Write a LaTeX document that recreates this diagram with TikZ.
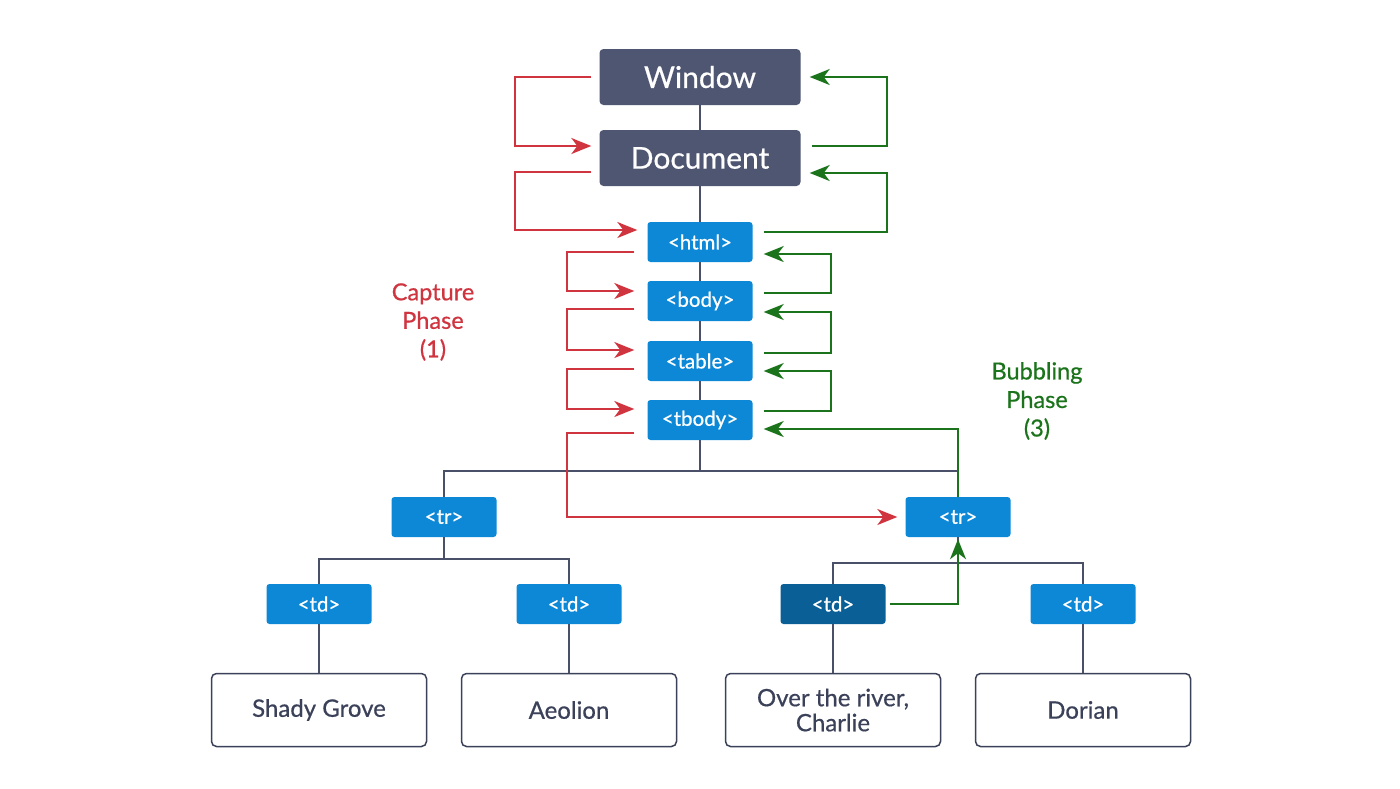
\documentclass[tikz,border=0pt]{standalone}
\usepackage{fontspec}
\setmainfont{Lato}[FakeBold=0.6]
\usetikzlibrary{arrows.meta}
\definecolor{slatefill}{HTML}{4F5672}
\definecolor{bluefill}{HTML}{0C88D7}
\definecolor{darkblue}{HTML}{0B5F97}
\definecolor{capred}{HTML}{D0343F}
\definecolor{bubgreen}{HTML}{1B741B}
\definecolor{lineg}{HTML}{4A5068}
\definecolor{txtdark}{HTML}{3B4159}
\tikzset{
  bigbox/.style={fill=slatefill, text=white, rounded corners=4pt, minimum width=201pt, minimum height=56pt, inner sep=0pt, font=\fontsize{30}{34}\selectfont},
  tagbox/.style={fill=bluefill, text=white, rounded corners=3pt, minimum width=105pt, minimum height=40pt, inner sep=0pt, font=\fontsize{20.5}{23}\selectfont},
  leafbox/.style={draw=txtdark, line width=1.5pt, fill=white, text=txtdark, rounded corners=5pt, minimum width=215pt, minimum height=73pt, inner sep=0pt, align=center, font=\fontsize{24}{26}\selectfont},
  gline/.style={draw=lineg, line width=1.4pt},
  redarr/.style={draw=capred, line width=1.8pt, -{Stealth[length=20pt,width=16pt,inset=6pt]}},
  greenarr/.style={draw=bubgreen, line width=1.8pt, -{Stealth[length=20pt,width=16pt,inset=6pt]}},
  phase/.style={align=center, font=\fontsize{23.5}{28.5}\selectfont}
}
\begin{document}
\begin{tikzpicture}[x=1pt,y=-1pt]
\fill[white] (0,0) rectangle (1400,788);
\useasboundingbox (0,0) rectangle (1400,788);

% nodes
\node[bigbox] (win) at (700,77) {Window};
\node[bigbox] (doc) at (700,158) {Document};
\node[tagbox] (html) at (700,242) {<html>};
\node[tagbox] (body) at (700,301) {<body>};
\node[tagbox] (table) at (700,361) {<table>};
\node[tagbox] (tbody) at (700,420) {<tbody>};
\node[tagbox] (trL) at (444,517) {<tr>};
\node[tagbox] (trR) at (958,517) {<tr>};
\node[tagbox] (td1) at (319,604) {<td>};
\node[tagbox] (td2) at (569,604) {<td>};
\node[tagbox, fill=darkblue] (td3) at (833,604) {<td>};
\node[tagbox] (td4) at (1083,604) {<td>};
\node[leafbox] (b1) at (319,710) {Shady Grove};
\node[leafbox] (b2) at (569,710) {Aeolion};
\node[leafbox] (b3) at (833,710) {Over the river,\\[-1pt]Charlie};
\node[leafbox] (b4) at (1083,710) {Dorian};

\node[phase, text=capred] (cap) at (433,322) {Capture\\Phase\\(1)};
\node[phase, text=bubgreen] (bub) at (1037,401) {Bubbling\\Phase\\(3)};

% tree lines
\draw[gline] (win) -- (doc) -- (html) -- (body) -- (table) -- (tbody);
\draw[gline] (tbody.south) -- ++(0,31);
\draw[gline] (trL.north) -- ++(0,-26) -| (trR.north);
\draw[gline] (trL.south) -- ++(0,22);
\draw[gline] (td1.north) -- ++(0,-25) -| (td2.north);
\draw[gline] (trR.south) -- ++(0,26);
\draw[gline] (td3.north) -- ++(0,-21) -| (td4.north);
\draw[gline] (td1) -- (b1);
\draw[gline] (td2) -- (b2);
\draw[gline] (td3) -- (b3);
\draw[gline] (td4) -- (b4);

% capture (red)
\draw[redarr] ([xshift=-8pt]win.west) -- ++(-76,0) |- ([xshift=-8pt,yshift=12pt]doc.west);
\draw[redarr] ([xshift=-8pt,yshift=-14pt]doc.west) -- ++(-76,0) |- ([xshift=-10pt,yshift=12pt]html.west);
\draw[redarr] ([xshift=-13pt,yshift=-10pt]html.west) -- ++(-67,0) |- ([xshift=-13pt,yshift=10pt]body.west);
\draw[redarr] ([xshift=-13pt,yshift=-8pt]body.west) -- ++(-67,0) |- ([xshift=-13pt,yshift=11pt]table.west);
\draw[redarr] ([xshift=-13pt,yshift=-8pt]table.west) -- ++(-67,0) |- ([xshift=-13pt,yshift=11pt]tbody.west);
\draw[redarr] ([xshift=-13pt,yshift=-13pt]tbody.west) -- ++(-67,0) |- ([xshift=-8pt]trR.west);

% bubbling (green)
\draw[greenarr] ([xshift=4pt]td3.east) -| ([yshift=-2pt]trR.south);
\draw[greenarr] (trR.north) |- ([xshift=11pt,yshift=-9pt]tbody.east);
\draw[greenarr] ([xshift=11pt,yshift=9pt]tbody.east) -- ++(67,0) |- ([xshift=11pt,yshift=-10pt]table.east);
\draw[greenarr] ([xshift=11pt,yshift=8pt]table.east) -- ++(67,0) |- ([xshift=11pt,yshift=-11pt]body.east);
\draw[greenarr] ([xshift=11pt,yshift=8pt]body.east) -- ++(67,0) |- ([xshift=11pt,yshift=-12pt]html.east);
\draw[greenarr] ([xshift=11pt,yshift=10pt]html.east) -- ++(123,0) |- ([xshift=9pt,yshift=-15pt]doc.east);
\draw[greenarr] ([xshift=11pt,yshift=12pt]doc.east) -- ++(75,0) |- ([xshift=9pt]win.east);
\end{tikzpicture}
\end{document}
